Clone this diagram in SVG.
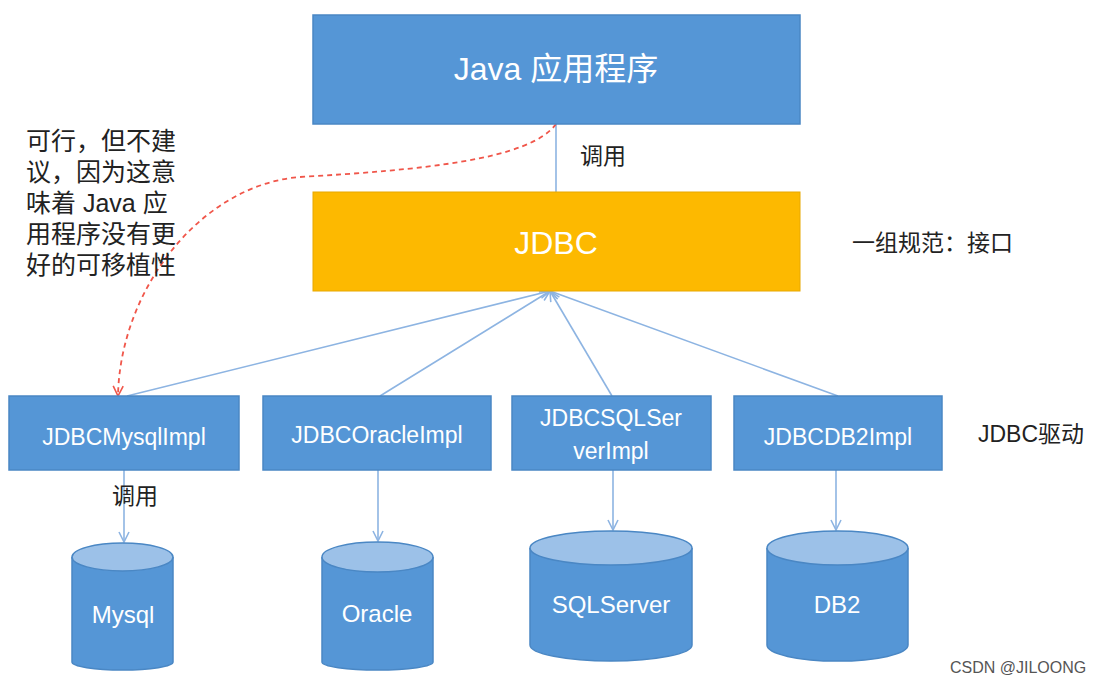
<svg xmlns="http://www.w3.org/2000/svg" width="1111" height="683" viewBox="0 0 1111 683">
<style>
.b{fill:#5596d6;stroke:#4a87c4;stroke-width:1.5}
.w{fill:#fff;font-family:"Liberation Sans","Noto Sans CJK SC",sans-serif;text-anchor:middle}
.k{fill:#222;font-family:"Liberation Sans","Noto Sans CJK SC",sans-serif}
.c{stroke:#8db4e2;stroke-width:1.6;fill:none}
.top{fill:#9cc1e8;stroke:#4a87c4;stroke-width:1.5}
</style>
<defs>
<marker id="a" viewBox="0 0 12 12" refX="11" refY="6" markerWidth="12" markerHeight="12" markerUnits="userSpaceOnUse" orient="auto"><path d="M1,1 L11,6 L1,11" fill="none" stroke="#8db4e2" stroke-width="1.6"/></marker>
<marker id="r" viewBox="0 0 12 12" refX="11" refY="6" markerWidth="12" markerHeight="12" markerUnits="userSpaceOnUse" orient="auto"><path d="M1,1 L11,6 L1,11" fill="none" stroke="#f0564a" stroke-width="1.6"/></marker>
</defs>
<rect width="1111" height="683" fill="#fff"/>
<g id="connectors">
<line class="c" x1="556" y1="124" x2="556" y2="192"/>
<line class="c" x1="127" y1="396" x2="550" y2="291" marker-end="url(#a)"/>
<line class="c" x1="380" y1="396" x2="550" y2="291" marker-end="url(#a)"/>
<line class="c" x1="612" y1="396" x2="550" y2="291" marker-end="url(#a)"/>
<line class="c" x1="838" y1="396" x2="550" y2="291" marker-end="url(#a)"/>
<line class="c" x1="124" y1="470" x2="124" y2="542" marker-end="url(#a)"/>
<line class="c" x1="378" y1="470" x2="378" y2="541" marker-end="url(#a)"/>
<line class="c" x1="613" y1="470" x2="613" y2="530" marker-end="url(#a)"/>
<line class="c" x1="836" y1="470" x2="836" y2="530" marker-end="url(#a)"/>
<path d="M556,124 C530,160 420,170 300,177 C200,185 120,290 118,396" fill="none" stroke="#f0564a" stroke-width="1.8" stroke-dasharray="5,4" marker-end="url(#r)"/>
<text class="k" x="580" y="164" font-size="23">调用</text>
<text class="k" x="112" y="504" font-size="23">调用</text>
</g>
<g id="java"><rect class="b" x="313" y="15" width="487" height="109"/><text class="w" x="556" y="80" font-size="32">Java 应用程序</text></g>
<g id="jdbc"><rect x="313" y="192" width="487" height="99" fill="#fdb900" stroke="#e8a800"/><text class="w" x="556" y="254" font-size="32">JDBC</text></g>
<g id="note"><text class="k" font-size="25"><tspan x="26" y="150">可行，但不建</tspan><tspan x="26" y="181">议，因为这意</tspan><tspan x="26" y="212">味着 Java 应</tspan><tspan x="26" y="243">用程序没有更</tspan><tspan x="26" y="274">好的可移植性</tspan></text></g>
<g id="spec"><text class="k" x="852" y="251" font-size="23">一组规范：接口</text></g>
<g id="driver"><text class="k" x="978" y="442" font-size="23">JDBC驱动</text></g>
<g id="mysqlimpl"><rect class="b" x="9" y="396" width="230" height="74"/><text class="w" x="124" y="445" font-size="23">JDBCMysqlImpl</text></g>
<g id="oracleimpl"><rect class="b" x="263" y="396" width="228" height="74"/><text class="w" x="377" y="443" font-size="23">JDBCOracleImpl</text></g>
<g id="sqlimpl"><rect class="b" x="512" y="396" width="199" height="74"/><text class="w" x="611" y="426" font-size="23">JDBCSQLSer</text><text class="w" x="611" y="459" font-size="23">verImpl</text></g>
<g id="db2impl"><rect class="b" x="734" y="396" width="208" height="74"/><text class="w" x="838" y="445" font-size="23">JDBCDB2Impl</text></g>
<g id="mysql"><path class="b" d="M72,557 L72,662 A50,8 0 0 0 173,662 L173,557"/><ellipse class="top" cx="122.5" cy="557" rx="50.5" ry="14"/><text class="w" x="123" y="623" font-size="24">Mysql</text></g>
<g id="oracle"><path class="b" d="M322,557 L322,662 A55,8 0 0 0 433,662 L433,557"/><ellipse class="top" cx="377.5" cy="557" rx="55.5" ry="15"/><text class="w" x="377" y="622" font-size="24">Oracle</text></g>
<g id="sqlserver"><path class="b" d="M530,548 L530,645 A81,16 0 0 0 692,645 L692,548"/><ellipse class="top" cx="611" cy="548" rx="81" ry="17"/><text class="w" x="611" y="613" font-size="24">SQLServer</text></g>
<g id="db2"><path class="b" d="M767,548 L767,645 A70,16 0 0 0 908,645 L908,548"/><ellipse class="top" cx="837.5" cy="548" rx="70.5" ry="17"/><text class="w" x="837" y="613" font-size="24">DB2</text></g>
<text x="950" y="673" font-size="16" fill="#555" font-family="Liberation Sans,sans-serif">CSDN @JILOONG</text>
</svg>
